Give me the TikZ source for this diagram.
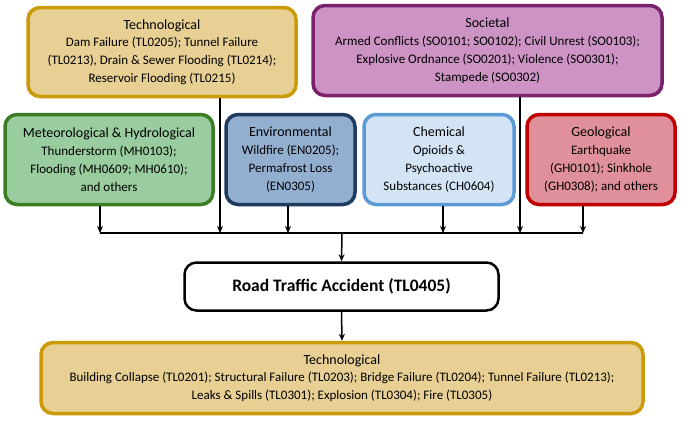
\documentclass[tikz,border=0pt]{standalone}
\usepackage{fontspec}
\setmainfont{Carlito}
\usetikzlibrary{arrows.meta}
\definecolor{techline}{HTML}{CC9A06}
\definecolor{techfill}{HTML}{E8D095}
\definecolor{socline}{HTML}{7A216E}
\definecolor{socfill}{HTML}{CC93C4}
\definecolor{mhline}{HTML}{3B7D23}
\definecolor{mhfill}{HTML}{99CD9F}
\definecolor{envline}{HTML}{1F3A5F}
\definecolor{envfill}{HTML}{93AFCF}
\definecolor{chemline}{HTML}{5B9BD5}
\definecolor{chemfill}{HTML}{D3E4F5}
\definecolor{geoline}{HTML}{C00000}
\definecolor{geofill}{HTML}{E0909A}
\tikzset{hazbox/.style={rounded corners=12pt, line width=3.5pt, align=center, inner sep=0pt,
    font=\fontsize{13}{17.8}\selectfont},
  arr/.style={line width=1.5pt, -{Stealth[length=7pt,width=6pt]}}}
\newcommand{\hzhead}[1]{{\fontsize{14}{19}\selectfont #1}}

\begin{document}
\begin{tikzpicture}[x=1pt,y=-1pt]
    \useasboundingbox (0,0) rectangle (696,424);
    % Upper causes
    \node[hazbox, draw=techline, fill=techfill, minimum width=268, minimum height=89] (techtop) at (162,52)
        {\hzhead{Technological}\\Dam Failure (TL0205); Tunnel Failure\\(TL0213), Drain \& Sewer Flooding (TL0214);\\Reservoir Flooding (TL0215)};
    \node[hazbox, draw=socline, fill=socfill, minimum width=349, minimum height=90] (soc) at (487.5,50.5)
        {\hzhead{Societal}\\Armed Conflicts (SO0101; SO0102); Civil Unrest (SO0103);\\Explosive Ordnance (SO0201); Violence (SO0301);\\Stampede (SO0302)};
    % Lower causes
    \node[hazbox, draw=mhline, fill=mhfill, minimum width=208, minimum height=90] (mh) at (109,159.5)
        {\hzhead{Meteorological \& Hydrological}\\Thunderstorm (MH0103);\\Flooding (MH0609; MH0610);\\and others};
    \node[hazbox, draw=envline, fill=envfill, minimum width=129, minimum height=90] (env) at (290.5,159.5)
        {\hzhead{Environmental}\\Wildfire (EN0205);\\Permafrost Loss\\(EN0305)};
    \node[hazbox, draw=chemline, fill=chemfill, minimum width=150, minimum height=90] (chem) at (439,159.5)
        {\hzhead{Chemical}\\Opioids \&\\Psychoactive\\Substances (CH0604)};
    \node[hazbox, draw=geoline, fill=geofill, minimum width=148, minimum height=90] (geo) at (601,159.5)
        {\hzhead{Geological}\\Earthquake\\(GH0101); Sinkhole\\(GH0308); and others};
    % Event
    \node[hazbox, line width=2.5pt, draw=black, fill=white, minimum width=314, minimum height=48,
        font=\fontsize{17.5}{20}\selectfont\bfseries] (rta) at (341.5,286.5) {Road Traffic Accident (TL0405)};
    % Consequences
    \node[hazbox, draw=techline, fill=techfill, minimum width=602, minimum height=71] (techbot) at (342,378)
        {\hzhead{Technological}\\Building Collapse (TL0201); Structural Failure (TL0203); Bridge Failure (TL0204); Tunnel Failure (TL0213);\\Leaks \& Spills (TL0301); Explosion (TL0304); Fire (TL0305)};
    % Bus
    \coordinate (b1) at (100,233);
    \coordinate (b2) at (220,233);
    \coordinate (b3) at (288,233);
    \coordinate (bm) at (342,233);
    \coordinate (b4) at (443,233);
    \coordinate (b5) at (520,233);
    \coordinate (b6) at (583,233);
    \draw[line width=1.5pt] (b1) -- (b6);
    \draw[arr] (b1 |- mh.south) -- (b1);
    \draw[arr] (b2 |- techtop.south) -- (b2);
    \draw[arr] (b3 |- env.south) -- (b3);
    \draw[arr] (b4 |- chem.south) -- (b4);
    \draw[arr] (b5 |- soc.south) -- (b5);
    \draw[arr] (b6 |- geo.south) -- (b6);
    \draw[arr] (bm) -- (rta.north);
    \draw[arr] (rta.south) -- (techbot.north);
\end{tikzpicture}
\end{document}
